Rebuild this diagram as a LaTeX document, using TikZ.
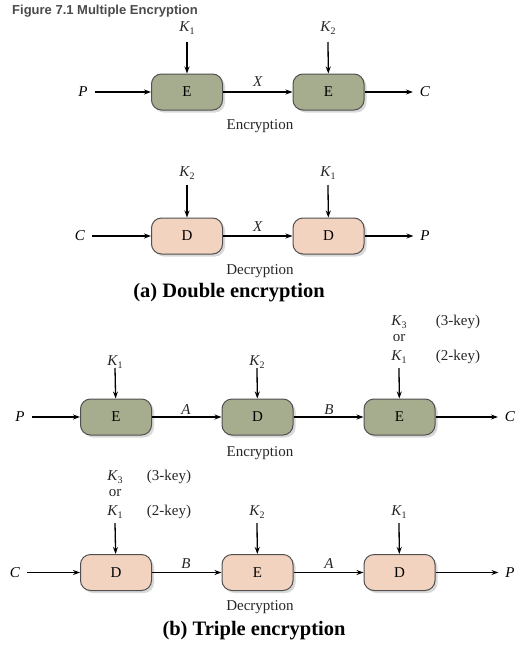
\documentclass[tikz,border=0pt]{standalone}
\usepackage{fontspec}
\setmainfont{Liberation Serif}
\newfontfamily\titlefont{Liberation Sans}
\usetikzlibrary{arrows.meta,shadows}
\newcommand{\Kx}[1]{\textit{K}\kern-0.3pt\raisebox{-0.4ex}{\fontsize{10}{10}\selectfont #1}}
\definecolor{encfill}{HTML}{A6AC8E}
\definecolor{decfill}{HTML}{F2D3BF}
\definecolor{boxline}{HTML}{505050}
\definecolor{titlegray}{HTML}{4A4A4A}
\tikzset{
  cbox/.style={draw=boxline, line width=1pt, rounded corners=10pt, minimum width=71pt, minimum height=36pt,
    inner sep=0pt, font=\fontsize{15}{15}\selectfont,
    drop shadow={shadow xshift=2.5pt, shadow yshift=-2.5pt, fill=black, opacity=0.15}},
  ebox/.style={cbox, fill=encfill},
  dbox/.style={cbox, fill=decfill},
  lbl/.style={inner sep=0pt, outer sep=7pt, font=\fontsize{15}{15}\selectfont},
  txt/.style={inner sep=0pt, font=\fontsize{15}{15}\selectfont, text=black!85},
  captxt/.style={inner sep=0pt, font=\fontsize{20.5}{20.5}\selectfont\bfseries},
  arr/.style={line width=1.3pt, -{Stealth[length=7pt,width=5pt]}},
}
\begin{document}
\begin{tikzpicture}[x=1pt,y=-1pt]
\useasboundingbox (0,0) rectangle (531,653);
\node[anchor=west, inner sep=0pt, text=titlegray, font=\titlefont\fontsize{13}{13}\selectfont\bfseries] (title) at (12,11) {Figure 7.1 Multiple Encryption};

% ---- Row 1: double encryption
\node[ebox] (e1) at (187,92) {E};
\node[ebox] (e2) at (328.5,92) {E};
\node[lbl] (p1) at (83,92) {\textit{P}};
\node[lbl] (c1) at (425,92) {\textit{C}};
\node[txt] (k1a) at (187,28) {\Kx{1}};
\node[txt] (k2a) at (328,28) {\Kx{2}};
\coordinate (k1at) at (187,42);
\coordinate (k2at) at (328,42);
\node[txt] (x1) at (258,82) {\textit{X}};
\node[txt] (enc1) at (260,126) {Encryption};
\draw[arr] (p1) -- (e1);
\draw[arr] (e1) -- (e2);
\draw[arr] (e2) -- (c1);
\draw[arr] (k1at) -- (e1);
\draw[arr] (k2at) -- (e2);

% ---- Row 2: double decryption
\node[dbox] (d1) at (187,236) {D};
\node[dbox] (d2) at (328.5,236) {D};
\node[lbl] (c2) at (80,236) {\textit{C}};
\node[lbl] (p2) at (425,236) {\textit{P}};
\node[txt] (k2b) at (187,173) {\Kx{2}};
\node[txt] (k1b) at (328,173) {\Kx{1}};
\coordinate (k2bt) at (187,185);
\coordinate (k1bt) at (328,185);
\node[txt] (x2) at (258,227) {\textit{X}};
\node[txt] (dec1) at (260,271) {Decryption};
\node[captxt] (capa) at (229,293) {(a) Double encryption};
\draw[arr] (c2) -- (d1);
\draw[arr] (d1) -- (d2);
\draw[arr] (d2) -- (p2);
\draw[arr] (k2bt) -- (d1);
\draw[arr] (k1bt) -- (d2);

% ---- Row 3: triple encryption
\node[ebox] (te1) at (116,417) {E};
\node[ebox] (td1) at (257.5,417) {D};
\node[ebox] (te2) at (399.5,417) {E};
\node[lbl] (p3) at (20,417) {\textit{P}};
\node[lbl] (c3) at (510,417) {\textit{C}};
\node[txt] (k1c) at (115,362) {\Kx{1}};
\node[txt] (k2c) at (257,362) {\Kx{2}};
\node[txt] (k3c) at (399,322) {\Kx{3}};
\node[txt] (orc) at (399,338) {or};
\node[txt] (k1d) at (399,357) {\Kx{1}};
\node[txt] (k3lc) at (458,322) {(3-key)};
\node[txt] (k2lc) at (458,357) {(2-key)};
\coordinate (k1ct) at (115,368);
\coordinate (k2ct) at (257,368);
\coordinate (k1dt) at (399,368);
\node[txt] (a3) at (186,410) {\textit{A}};
\node[txt] (b3) at (329,410) {\textit{B}};
\node[txt] (enc2) at (260,453) {Encryption};
\draw[arr] (p3) -- (te1);
\draw[arr] (te1) -- (td1);
\draw[arr] (td1) -- (te2);
\draw[arr] (te2) -- (c3);
\draw[arr] (k1ct) -- (te1);
\draw[arr] (k2ct) -- (td1);
\draw[arr] (k1dt) -- (te2);

% ---- Row 4: triple decryption
\node[dbox] (tdd1) at (116,572.5) {D};
\node[dbox] (tde1) at (257.5,572.5) {E};
\node[dbox] (tdd2) at (399.5,572.5) {D};
\node[lbl] (c4) at (15,572.5) {\textit{C}};
\node[lbl] (p4) at (510,572.5) {\textit{P}};
\node[txt] (k3e) at (115,477) {\Kx{3}};
\node[txt] (ore) at (115,493) {or};
\node[txt] (k1e) at (115,512) {\Kx{1}};
\node[txt] (k3le) at (169,477) {(3-key)};
\node[txt] (k2le) at (169,512) {(2-key)};
\node[txt] (k2e) at (257,512) {\Kx{2}};
\node[txt] (k1f) at (399,512) {\Kx{1}};
\coordinate (k1et) at (115,523);
\coordinate (k2et) at (257,523);
\coordinate (k1ft) at (399,523);
\node[txt] (b4) at (186,564) {\textit{B}};
\node[txt] (a4) at (329,564) {\textit{A}};
\node[txt] (dec2) at (260,607) {Decryption};
\node[captxt] (capb) at (254,631) {(b) Triple encryption};
\draw[arr] (c4) -- (tdd1);
\draw[arr] (tdd1) -- (tde1);
\draw[arr] (tde1) -- (tdd2);
\draw[arr] (tdd2) -- (p4);
\draw[arr] (k1et) -- (tdd1);
\draw[arr] (k2et) -- (tde1);
\draw[arr] (k1ft) -- (tdd2);
\end{tikzpicture}
\end{document}
